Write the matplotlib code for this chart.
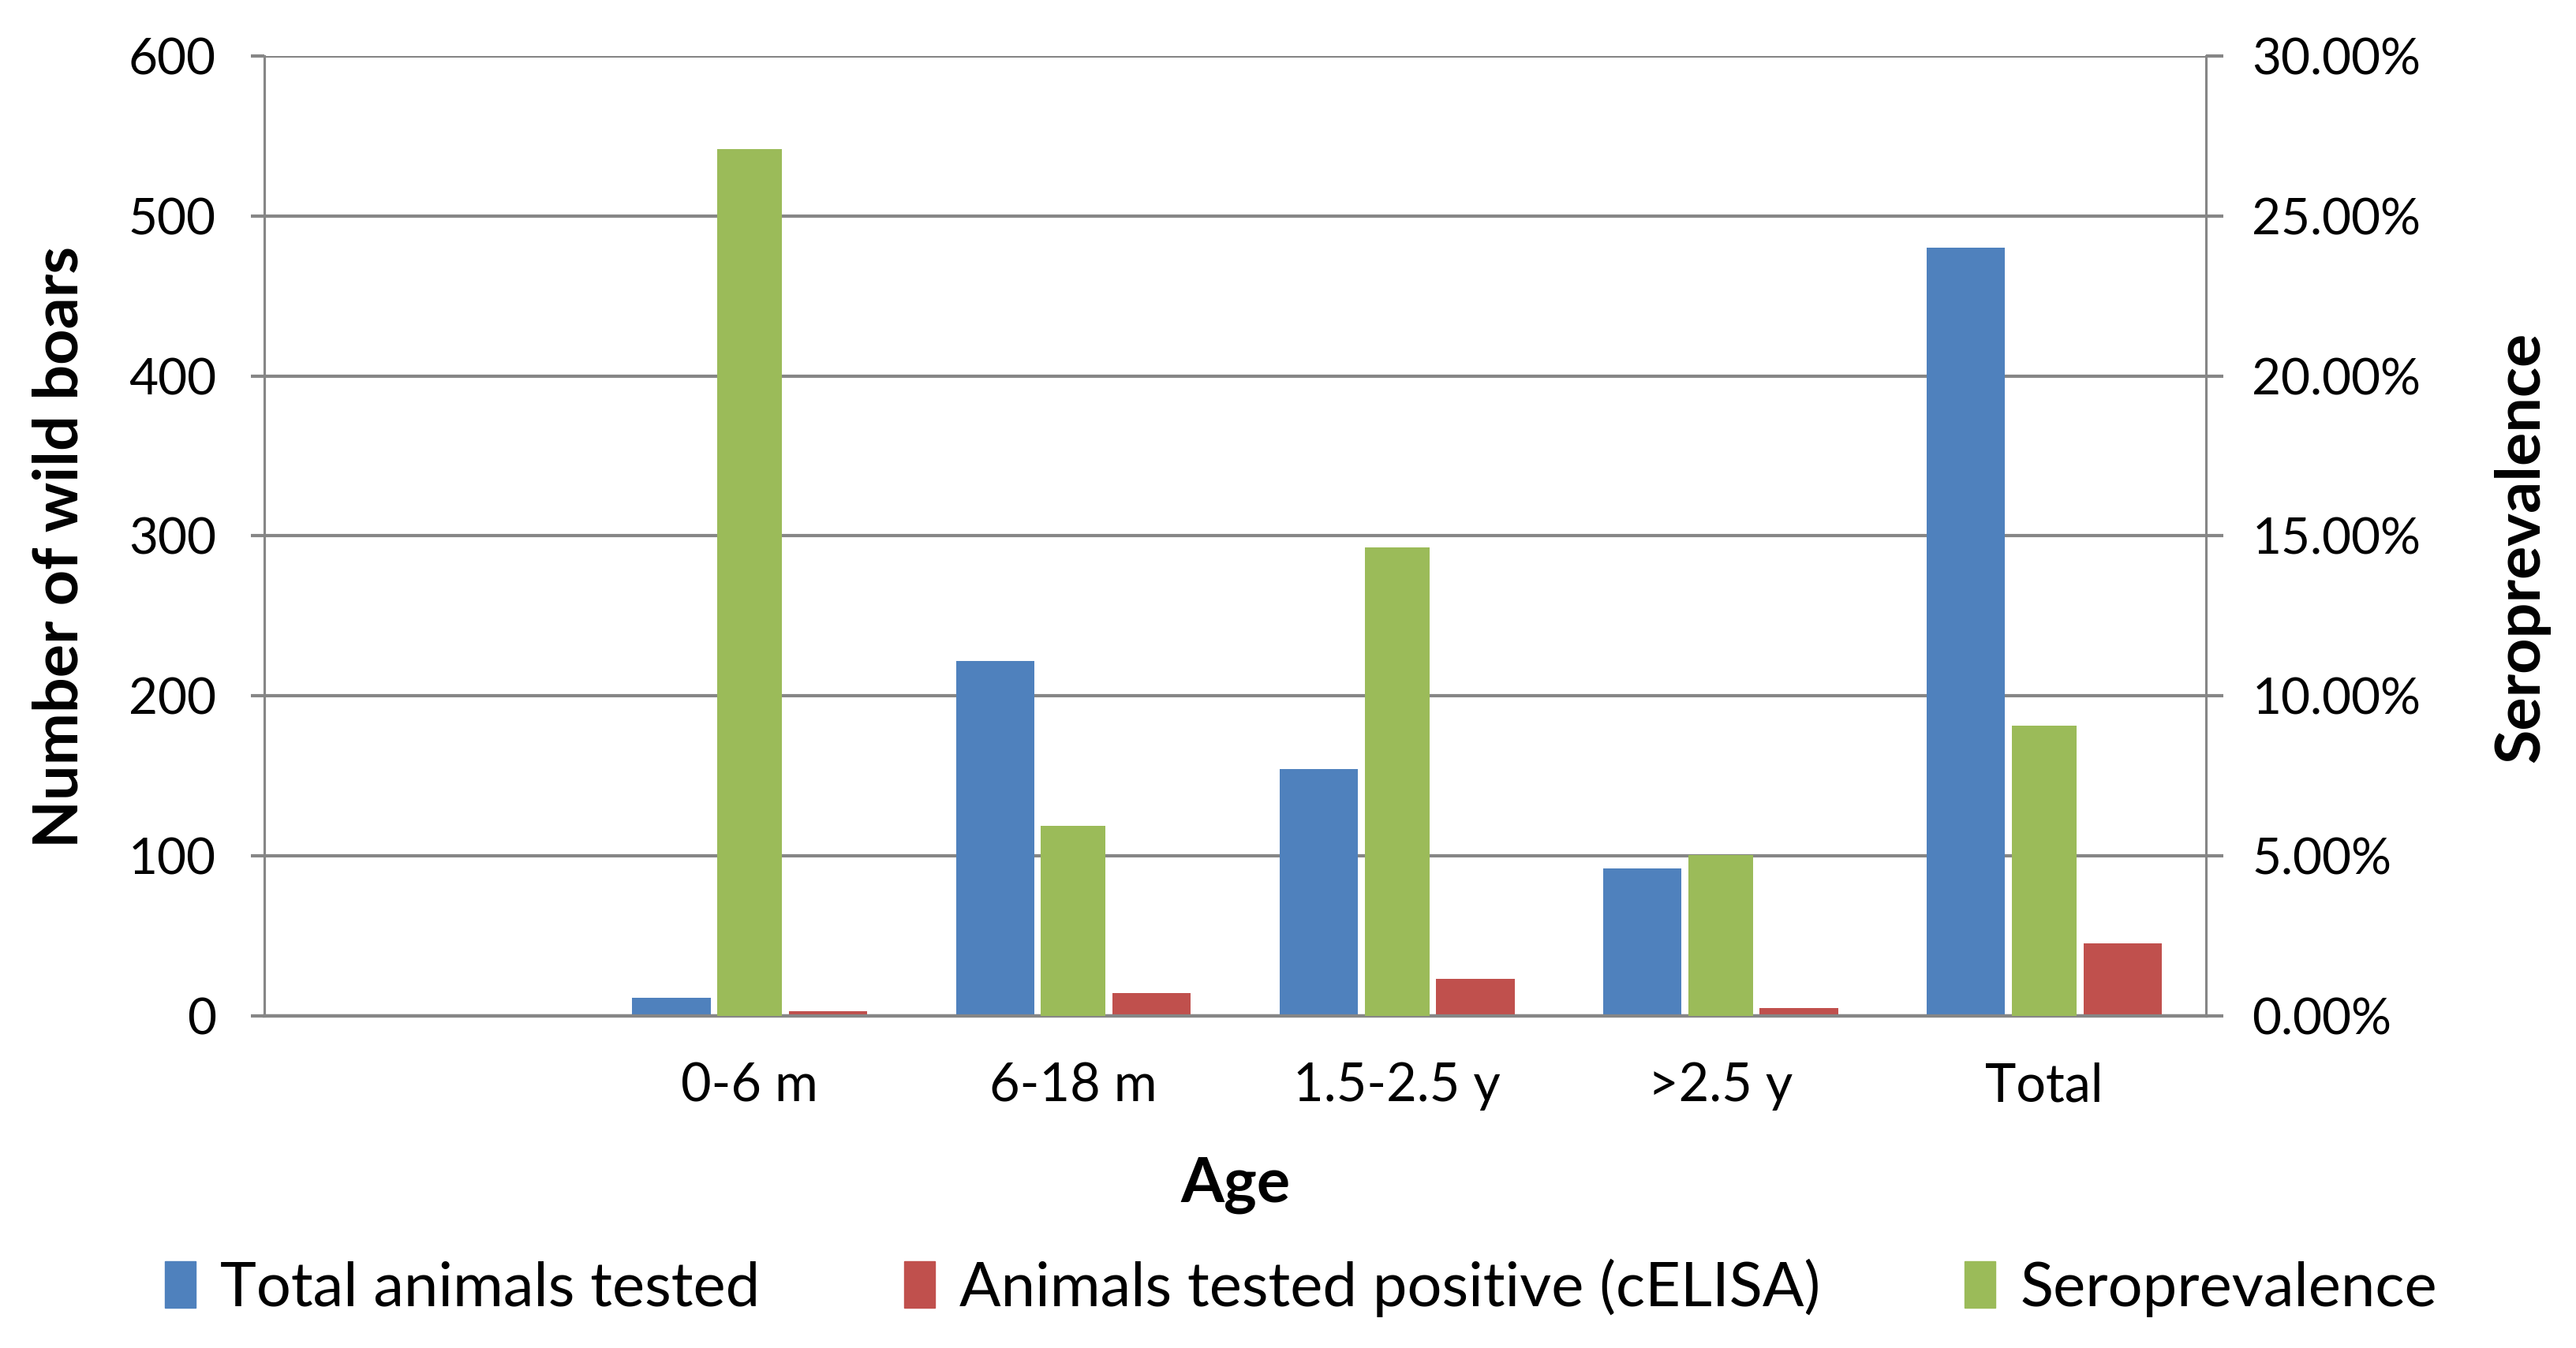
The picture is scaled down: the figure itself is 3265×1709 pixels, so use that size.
import matplotlib
matplotlib.use("Agg")
import matplotlib.pyplot as plt
import numpy as np
from matplotlib.ticker import FuncFormatter
from matplotlib.patches import Patch

plt.rcParams['font.family'] = ['Lato', 'DejaVu Sans']

categories = ["", "0-6 m", "6-18 m", "1.5-2.5 y", ">2.5 y", "Total"]
total_tested = [0, 11, 222, 154, 92, 480]
tested_positive = [0, 3, 14, 23, 5, 45]
seroprevalence = [0, 27.1, 5.94, 14.63, 5.03, 9.07]  # percent

blue = "#4F81BD"
red = "#C0504D"
green = "#9BBB59"
gridc = "#868686"

fig = plt.figure(figsize=(32.65, 17.09), dpi=100)
ax = fig.add_axes([0.1026, 0.2465, 0.7538, 0.7119])
ax2 = ax.twinx()

x = np.arange(len(categories))
w = 0.242
gw = 0.2
ax.bar(x - w, total_tested, width=w, color=blue, zorder=3)
ax.bar(x + w, tested_positive, width=w, color=red, zorder=3)
ax2.bar(x, seroprevalence, width=gw, color=green, zorder=3)

ax.set_xlim(-0.5, len(categories) - 0.5)
ax.set_ylim(0, 600)
ax2.set_ylim(0, 30)
ax.set_yticks(np.arange(0, 601, 100))
ax2.set_yticks(np.arange(0, 30.1, 5))
ax2.yaxis.set_major_formatter(FuncFormatter(lambda v, p: f"{v:.2f}%"))

ax.set_xticks(x)
ax.set_xticklabels(categories)

ax.yaxis.grid(True, color=gridc, linewidth=3.0, zorder=0)
ax.set_axisbelow(True)
ax2.set_zorder(ax.get_zorder() + 1)
ax.patch.set_visible(True)
ax2.patch.set_visible(False)

for a in (ax, ax2):
    a.spines["top"].set_visible(False)
    a.spines["left"].set_color(gridc)
    a.spines["right"].set_color(gridc)
    a.spines["bottom"].set_color(gridc)
    a.spines["left"].set_linewidth(2.2)
    a.spines["right"].set_linewidth(2.2)
    a.spines["bottom"].set_linewidth(3.0)

ax.tick_params(axis='y', direction='out', length=12, width=3.0, color=gridc,
               labelsize=46, pad=32)
ax2.tick_params(axis='y', direction='out', length=16, width=3.0, color=gridc,
                labelsize=46, pad=26)
ax.tick_params(axis='x', length=0, labelsize=48, pad=42)

fig.text(0.0235, 0.594, "Number of wild boars", rotation=90, ha='center',
         va='center', fontsize=57, fontweight='bold')
fig.text(0.979, 0.594, "Seroprevalence", rotation=90, ha='center',
         va='center', fontsize=57, fontweight='bold')
fig.text(0.4795, 0.1206, "Age", ha='center', va='center', fontsize=57,
         fontweight='bold')

handles = [Patch(color=blue, label="Total animals tested"),
           Patch(color=red, label="Animals tested positive (cELISA)"),
           Patch(color=green, label="Seroprevalence")]
fig.legend(handles=handles, loc='center', bbox_to_anchor=(0.505, 0.0447),
           ncol=3, frameon=False, fontsize=56, handlelength=0.5,
           handleheight=0.8, handletextpad=0.4, columnspacing=2.35)

fig.savefig("out.png", dpi=100, facecolor='white')
